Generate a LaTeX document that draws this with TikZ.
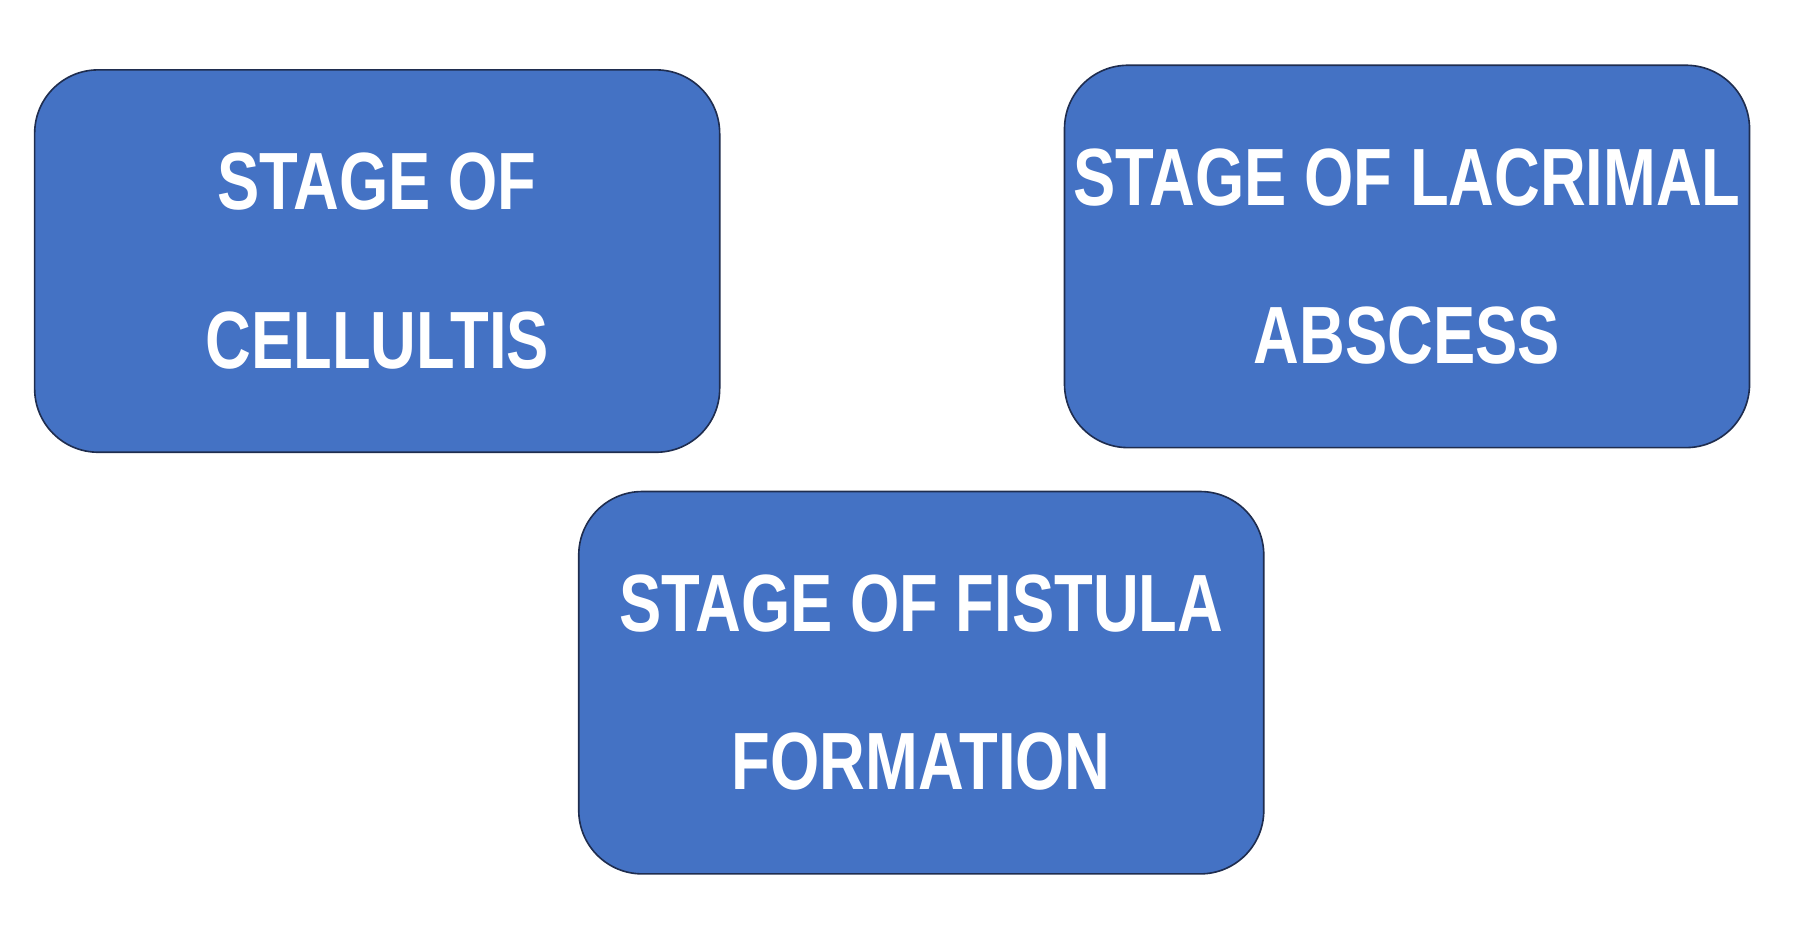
\documentclass[tikz,border=0pt]{standalone}
\usepackage{fontspec}
\setmainfont{Liberation Sans}[FakeStretch=0.78]
\usetikzlibrary{positioning}
\definecolor{stageblue}{HTML}{4472C4}
\definecolor{stageedge}{HTML}{1F2D4F}
\tikzset{stage/.style={draw=stageedge,fill=stageblue,rounded corners=0.55cm,inner sep=0.05cm,minimum width=5.93cm,minimum height=3.31cm,align=center,text=white,font=\fontsize{20}{39}\selectfont\bfseries}}
\begin{document}
\begin{tikzpicture}
  \useasboundingbox (0,0) rectangle (15.53,8.11);
  %top row
  \node[stage] (cellulitis) at (3.265,5.85) {STAGE OF\\CELLULTIS};
  \node[stage] (abscess) at (12.18,5.89) {STAGE OF LACRIMAL\\ABSCESS};
  %bottom
  \node[stage] (fistula) at (7.975,2.2) {STAGE OF FISTULA\\FORMATION};
\end{tikzpicture}
\end{document}
